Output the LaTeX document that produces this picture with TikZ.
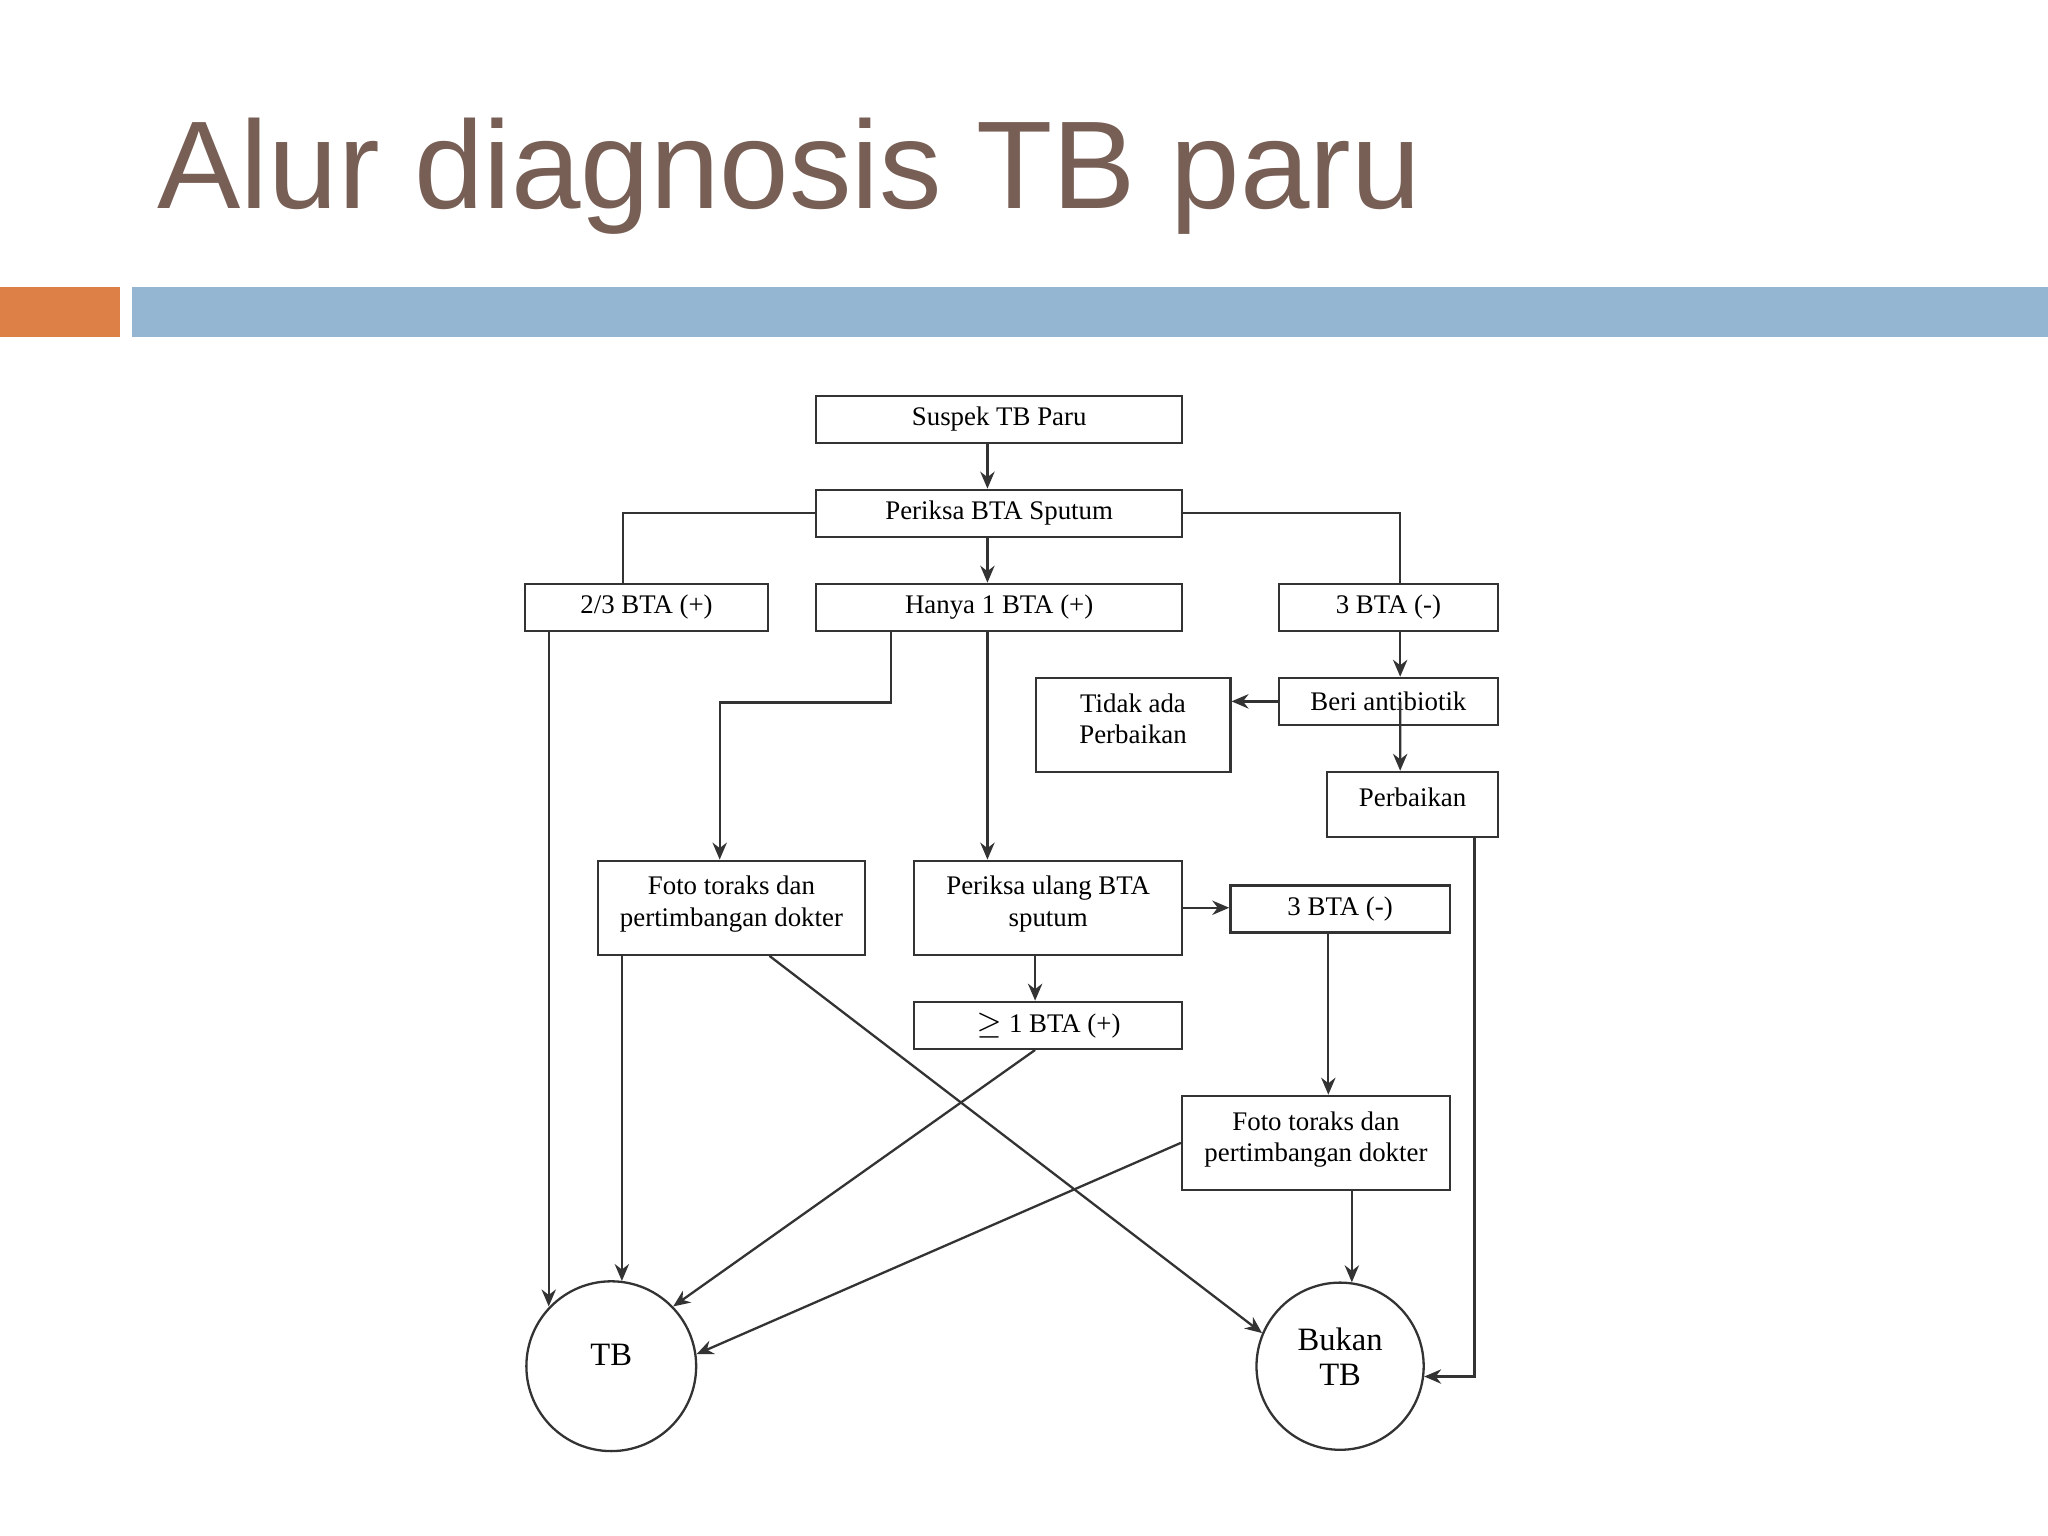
\documentclass[tikz,border=0pt]{standalone}
\usepackage{fontspec}
\setmainfont{Liberation Serif}
\newfontfamily\titlefont{Liberation Sans}
\usetikzlibrary{arrows.meta}
\definecolor{titlec}{HTML}{775F55}
\definecolor{orangec}{HTML}{DD8047}
\definecolor{bluec}{HTML}{94B6D2}
\definecolor{linec}{HTML}{333333}
\begin{document}
\begin{tikzpicture}[
  box/.style={draw=linec, line width=0.5pt, inner sep=0pt, align=center, font=\fontsize{5.85}{6.8}\selectfont, minimum height=0.36cm},
  circ/.style={draw=linec, line width=0.5pt, circle, inner sep=0pt, align=center, font=\fontsize{7.1}{7.6}\selectfont},
  ln/.style={draw=linec, line width=0.5pt},
  arr/.style={ln, -{Stealth[length=1.3mm,width=1.1mm]}}
]
\useasboundingbox[fill=white] (0,0) rectangle (15.68,-11.76);
\node[anchor=base west, text=titlec, font=\titlefont\fontsize{27.2}{29}\selectfont, inner sep=0pt] (title) at (1.20,-1.60) {Alur diagnosis TB paru};
\fill[orangec] (0,-2.20) rectangle (0.92,-2.58);
\fill[bluec] (1.01,-2.20) rectangle (15.68,-2.58);

\node[box, minimum width=2.80cm] (suspek) at (7.65,-3.21) {Suspek TB Paru};
\node[box, minimum width=2.80cm] (periksa) at (7.65,-3.93) {Periksa BTA Sputum};
\node[box, minimum width=1.86cm] (b23) at (4.95,-4.65) {2/3 BTA (+)};
\node[box, minimum width=2.80cm] (hanya) at (7.65,-4.65) {Hanya 1 BTA (+)};
\node[box, minimum width=1.68cm] (b3neg) at (10.63,-4.65) {3 BTA (-)};
\node[box, minimum width=1.68cm] (beri) at (10.63,-5.37) {Beri antibiotik};
\node[box, minimum width=1.49cm, minimum height=0.72cm, text depth=0.1cm] (tidak) at (8.675,-5.55) {Tidak ada\\Perbaikan};
\node[box, minimum width=1.31cm, minimum height=0.50cm, text depth=0.12cm] (perbaikan) at (10.815,-6.16) {Perbaikan};
\node[box, minimum width=2.04cm, minimum height=0.72cm, text depth=0.1cm] (foto1) at (5.60,-6.95) {Foto toraks dan\\pertimbangan dokter};
\node[box, minimum width=2.05cm, minimum height=0.72cm, text depth=0.1cm] (pu) at (8.025,-6.95) {Periksa ulang BTA\\sputum};
\node[box, minimum width=1.68cm] (b3neg2) at (10.26,-6.96) {3 BTA (-)};
\node[box, minimum width=2.05cm] (ge1) at (8.025,-7.85) {$\geq$ 1 BTA (+)};
\node[box, minimum width=2.05cm, minimum height=0.72cm, text depth=0.1cm] (foto2) at (10.075,-8.75) {Foto toraks dan\\pertimbangan dokter};
\node[circ, minimum size=1.30cm, text depth=0.17cm] (tb) at (4.68,-10.46) {TB};
\node[circ, minimum size=1.28cm, text depth=0.15cm] (bukan) at (10.26,-10.46) {Bukan\\TB};

\draw[arr] ([xshift=-0.09cm]suspek.south) -- ([xshift=-0.09cm]periksa.north);
\draw[ln] (periksa.west) -| ([xshift=-0.18cm]b23.north);
\draw[ln] (periksa.east) -| ([xshift=0.09cm]b3neg.north);
\draw[arr] ([xshift=-0.09cm]periksa.south) -- ([xshift=-0.09cm]hanya.north);
\draw[arr] ([xshift=0.09cm]b3neg.south) -- ([xshift=0.09cm]beri.north);
\draw[arr] (beri.west) -- (beri.west -| tidak.east);
\draw[arr] ([xshift=0.09cm]beri.center) -- ([xshift=-0.095cm]perbaikan.north);
\draw[arr] ([xshift=-0.83cm]hanya.south) -- ++(0,-0.54) -| ([xshift=-0.09cm]foto1.north);
\draw[arr] ([xshift=-0.09cm]hanya.south) -- ([xshift=-0.09cm]hanya.south |- pu.north);
\draw[arr] ([xshift=0.19cm]b23.south west) -- ([xshift=0.19cm]b23.south west |- tb.136);
\draw[arr] ([xshift=0.19cm]foto1.south west) -- ([xshift=0.19cm]foto1.south west |- tb.82);
\draw[arr] ([xshift=1.32cm]foto1.south west) -- (bukan.157);
\draw[arr] (pu.east) -- (pu.east -| b3neg2.west);
\draw[arr] ([xshift=-0.1cm]pu.south) -- ([xshift=-0.1cm]ge1.north);
\draw[arr] ([xshift=-0.1cm]ge1.south) -- (tb.44);
\draw[arr] ([xshift=-0.09cm]b3neg2.south) -- ([xshift=-0.09cm]b3neg2.south |- foto2.north);
\draw[arr] (foto2.west) -- (tb.8);
\draw[arr] ([xshift=0.275cm]foto2.south) -- ([xshift=0.275cm]foto2.south |- bukan.82);
\draw[arr] ([xshift=-0.19cm]perbaikan.south east) |- (bukan.-7);
\end{tikzpicture}
\end{document}
